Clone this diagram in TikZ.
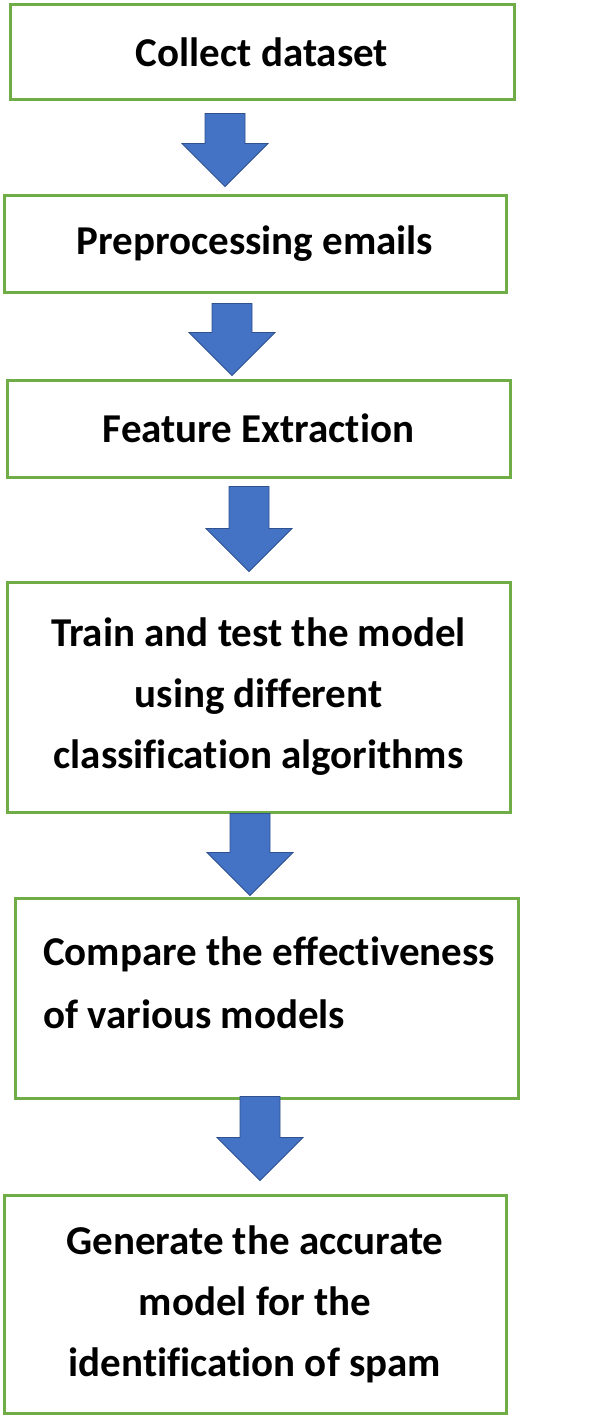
\documentclass[tikz,border=0pt]{standalone}
\usepackage{fontspec}
\setmainfont[Ligatures=NoCommon]{Carlito}
\usetikzlibrary{calc}
\definecolor{boxgreen}{RGB}{112,173,71}
\definecolor{arrowblue}{RGB}{68,114,196}
\definecolor{arrowedge}{RGB}{47,82,143}
\tikzset{
  box/.style={draw=boxgreen, line width=3pt, fill=white, inner sep=0pt,
    font={\fontsize{41}{61}\selectfont\bfseries}, align=center},
  lbl/.style={inner sep=0pt, font={\fontsize{41}{63}\selectfont\bfseries}, align=left},
  blockarrow/.style={fill=arrowblue, draw=arrowedge, line width=0.8pt, line join=miter}
}
% #1 from node, #2 to node, #3 x centre, #4 gap below source, #5 gap above target
\newcommand\blockarr[5]{%
  \path[blockarrow] let \p1=(#1.south), \p2=(#2.north) in
    ({(#3-20)*1pt},{\y1-#4*1pt}) -- ({(#3+20)*1pt},{\y1-#4*1pt})
    -- ({(#3+20)*1pt},{\y2+(#5+43)*1pt}) -- ({(#3+43)*1pt},{\y2+(#5+43)*1pt})
    -- ({#3*1pt},{\y2+#5*1pt})
    -- ({(#3-43)*1pt},{\y2+(#5+43)*1pt}) -- ({(#3-20)*1pt},{\y2+(#5+43)*1pt}) -- cycle;}
\begin{document}
\begin{tikzpicture}[x=1pt,y=1pt]
\useasboundingbox[fill=white] (0,0) rectangle (596,-1418);
\node[box, minimum width=504pt, minimum height=95pt] (b1) at (262,-52.5) {Collect dataset};
\node[box, minimum width=502pt, minimum height=97pt] (b2) at (255,-243.5) {Preprocessing emails};
\node[box, minimum width=503pt, minimum height=97pt] (b3) at (258.5,-428.5) {Feature Extraction};
\node[box, minimum width=503pt, minimum height=230pt] (b4) at (258.5,-697) {Train and test the model\\using different\\classification algorithms};
\node[box, minimum width=503pt, minimum height=200pt] (b5) at (266.5,-998) {};
\node[lbl, anchor=west] (t5) at (43,-983) {Compare the effectiveness\\of various models};
\node[box, minimum width=502pt, minimum height=218pt] (b6) at (255,-1304) {Generate the accurate\\model for the\\identification of spam};
\blockarr{b1}{b2}{225}{12}{7}
\blockarr{b2}{b3}{232}{10}{3}
\blockarr{b3}{b4}{249}{8}{9}
\blockarr{b4}{b5}{250}{0}{1}
\blockarr{b5}{b6}{260}{-3}{13}
\end{tikzpicture}
\end{document}
